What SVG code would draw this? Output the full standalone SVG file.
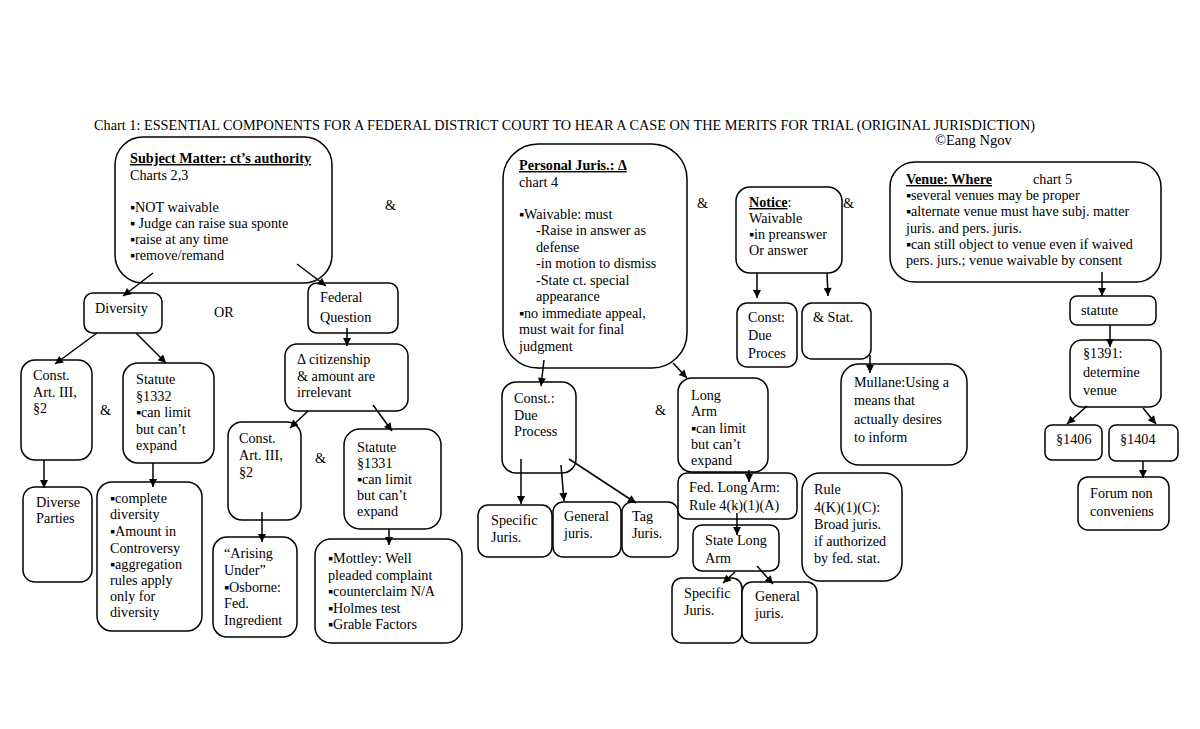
<svg xmlns="http://www.w3.org/2000/svg" width="1200" height="729" viewBox="0 0 1200 729">
<defs>
<style>
.box{fill:#fff;stroke:#000;stroke-width:1.5}
text{font-family:"Liberation Serif","Times New Roman",serif;font-size:14.2px;fill:#000}
.h{font-weight:bold;text-decoration:underline}
.ti{font-size:14.5px}
.c line{stroke:#000;stroke-width:1.5;marker-end:url(#ah)}
</style>
<marker id="ah" viewBox="0 0 10 10" refX="10" refY="5" markerWidth="9" markerHeight="8" markerUnits="userSpaceOnUse" orient="auto">
<path d="M0,0 L10,5 L0,10 z" fill="#000"/>
</marker>
</defs>
<rect width="1200" height="729" fill="#fff"/>
<g id="title">
<text class="ti" x="94" y="130" textLength="941" lengthAdjust="spacingAndGlyphs">Chart 1: ESSENTIAL COMPONENTS FOR A FEDERAL DISTRICT COURT TO HEAR A CASE ON THE MERITS FOR TRIAL (ORIGINAL JURISDICTION)</text>
<text class="ti" x="935" y="145">©Eang Ngov</text>
</g>
<g id="labels">
<text x="385" y="210">&amp;</text>
<text x="214" y="317">OR</text>
<text x="100" y="415">&amp;</text>
<text x="315" y="463">&amp;</text>
<text x="697" y="208">&amp;</text>
<text x="843" y="208">&amp;</text>
<text x="655" y="415">&amp;</text>
</g>
<g id="subject">
<rect class="box" x="115" y="137" width="217" height="146" rx="28"/>
<text><tspan class="h" x="130" y="163">Subject Matter: ct’s authority</tspan><tspan x="130" y="180">Charts 2,3</tspan><tspan x="130" y="212">▪NOT waivable</tspan><tspan x="130" y="228">▪ Judge can raise sua sponte</tspan><tspan x="130" y="244">▪raise at any time</tspan><tspan x="130" y="260">▪remove/remand</tspan></text>
</g>
<g id="diversity">
<rect class="box" x="84" y="293" width="78" height="40" rx="9"/>
<text x="95" y="313">Diversity</text>
</g>
<g id="fedq">
<rect class="box" x="308" y="283" width="90" height="50" rx="9"/>
<text><tspan x="320" y="302">Federal</tspan><tspan x="320" y="322">Question</tspan></text>
</g>
<g id="const1">
<rect class="box" x="21" y="360" width="71" height="100" rx="14"/>
<text><tspan x="33" y="380">Const.</tspan><tspan x="33" y="397">Art. III,</tspan><tspan x="33" y="413">§2</tspan></text>
</g>
<g id="stat1332">
<rect class="box" x="123" y="363" width="91" height="100" rx="15"/>
<text><tspan x="136" y="384">Statute</tspan><tspan x="136" y="401">§1332</tspan><tspan x="136" y="417">▪can limit</tspan><tspan x="136" y="434">but can’t</tspan><tspan x="136" y="450">expand</tspan></text>
</g>
<g id="diverse">
<rect class="box" x="23" y="487" width="69" height="95" rx="12"/>
<text><tspan x="36" y="507">Diverse</tspan><tspan x="36" y="523">Parties</tspan></text>
</g>
<g id="complete">
<rect class="box" x="97" y="482" width="105" height="149" rx="15"/>
<text><tspan x="110" y="503">▪complete</tspan><tspan x="110" y="519">diversity</tspan><tspan x="110" y="536">▪Amount in</tspan><tspan x="110" y="553">Controversy</tspan><tspan x="110" y="569">▪aggregation</tspan><tspan x="110" y="585">rules apply</tspan><tspan x="110" y="601">only for</tspan><tspan x="110" y="617">diversity</tspan></text>
</g>
<g id="citizen">
<rect class="box" x="285" y="344" width="123" height="67" rx="12"/>
<text><tspan x="297" y="364">Δ citizenship</tspan><tspan x="297" y="381">&amp; amount are</tspan><tspan x="297" y="397">irrelevant</tspan></text>
</g>
<g id="const2">
<rect class="box" x="228" y="422" width="73" height="98" rx="14"/>
<text><tspan x="239" y="443">Const.</tspan><tspan x="239" y="460">Art. III,</tspan><tspan x="239" y="477">§2</tspan></text>
</g>
<g id="stat1331">
<rect class="box" x="344" y="429" width="97" height="100" rx="16"/>
<text><tspan x="357" y="452">Statute</tspan><tspan x="357" y="468">§1331</tspan><tspan x="357" y="484">▪can limit</tspan><tspan x="357" y="500">but can’t</tspan><tspan x="357" y="516">expand</tspan></text>
</g>
<g id="arising">
<rect class="box" x="213" y="537" width="84" height="100" rx="14"/>
<text><tspan x="224" y="558">“Arising</tspan><tspan x="224" y="575">Under”</tspan><tspan x="224" y="592">▪Osborne:</tspan><tspan x="224" y="608">Fed.</tspan><tspan x="224" y="625">Ingredient</tspan></text>
</g>
<g id="mottley">
<rect class="box" x="315" y="539" width="147" height="104" rx="16"/>
<text><tspan x="328" y="563">▪Mottley: Well</tspan><tspan x="328" y="580">pleaded complaint</tspan><tspan x="328" y="596">▪counterclaim N/A</tspan><tspan x="328" y="613">▪Holmes test</tspan><tspan x="328" y="629">▪Grable Factors</tspan></text>
</g>
<g id="personal">
<rect class="box" x="503" y="144" width="184" height="224" rx="35"/>
<text><tspan class="h" x="519" y="170">Personal Juris.: Δ</tspan><tspan x="519" y="187">chart 4</tspan><tspan x="519" y="219">▪Waivable: must</tspan><tspan x="536" y="235">-Raise in answer as</tspan><tspan x="536" y="252">defense</tspan><tspan x="536" y="268">-in motion to dismiss</tspan><tspan x="536" y="285">-State ct. special</tspan><tspan x="536" y="301">appearance</tspan><tspan x="519" y="318">▪no immediate appeal,</tspan><tspan x="519" y="334">must wait for final</tspan><tspan x="519" y="351">judgment</tspan></text>
</g>
<g id="notice">
<rect class="box" x="736" y="187" width="106" height="86" rx="14"/>
<text><tspan x="749" y="207"><tspan class="h">Notice</tspan>:</tspan><tspan x="749" y="223">Waivable</tspan><tspan x="749" y="239">▪in preanswer</tspan><tspan x="749" y="255">Or answer</tspan></text>
</g>
<g id="constdp2">
<rect class="box" x="737" y="303" width="60" height="64" rx="10"/>
<text><tspan x="748" y="322">Const:</tspan><tspan x="748" y="340">Due</tspan><tspan x="748" y="358">Proces</tspan></text>
</g>
<g id="stat">
<rect class="box" x="802" y="303" width="69" height="56" rx="10"/>
<text x="813" y="322">&amp; Stat.</text>
</g>
<g id="mullane">
<rect class="box" x="841" y="364" width="126" height="101" rx="18"/>
<text><tspan x="854" y="387">Mullane:Using a</tspan><tspan x="854" y="405">means that</tspan><tspan x="854" y="424">actually desires</tspan><tspan x="854" y="442">to inform</tspan></text>
</g>
<g id="constdp">
<rect class="box" x="502" y="382" width="74" height="91" rx="14"/>
<text><tspan x="514" y="403">Const.:</tspan><tspan x="514" y="420">Due</tspan><tspan x="514" y="436">Process</tspan></text>
</g>
<g id="longarm">
<rect class="box" x="678" y="378" width="90" height="94" rx="14"/>
<text><tspan x="691" y="400">Long</tspan><tspan x="691" y="416">Arm</tspan><tspan x="691" y="433">▪can limit</tspan><tspan x="691" y="449">but can’t</tspan><tspan x="691" y="465">expand</tspan></text>
</g>
<g id="specific1">
<rect class="box" x="478" y="505" width="74" height="52" rx="10"/>
<text><tspan x="491" y="525">Specific</tspan><tspan x="491" y="542">Juris.</tspan></text>
</g>
<g id="general1">
<rect class="box" x="553" y="502" width="68" height="55" rx="10"/>
<text><tspan x="564" y="521">General</tspan><tspan x="564" y="538">juris.</tspan></text>
</g>
<g id="tag">
<rect class="box" x="622" y="502" width="56" height="55" rx="10"/>
<text><tspan x="632" y="521">Tag</tspan><tspan x="632" y="538">Juris.</tspan></text>
</g>
<g id="fedlong">
<rect class="box" x="678" y="473" width="119" height="46" rx="9"/>
<text><tspan x="689" y="492">Fed. Long Arm:</tspan><tspan x="689" y="510">Rule 4(k)(1)(A)</tspan></text>
</g>
<g id="statelong">
<rect class="box" x="693" y="525" width="86" height="46" rx="9"/>
<text><tspan x="705" y="545">State Long</tspan><tspan x="705" y="563">Arm</tspan></text>
</g>
<g id="specific2">
<rect class="box" x="672" y="578" width="70" height="65" rx="10"/>
<text><tspan x="684" y="598">Specific</tspan><tspan x="684" y="615">Juris.</tspan></text>
</g>
<g id="general2">
<rect class="box" x="742" y="582" width="75" height="61" rx="10"/>
<text><tspan x="755" y="601">General</tspan><tspan x="755" y="618">juris.</tspan></text>
</g>
<g id="rule4c">
<rect class="box" x="802" y="473" width="100" height="108" rx="18"/>
<text><tspan x="814" y="494">Rule</tspan><tspan x="814" y="512">4(K)(1)(C):</tspan><tspan x="814" y="529">Broad juris.</tspan><tspan x="814" y="546">if authorized</tspan><tspan x="814" y="563">by fed. stat.</tspan></text>
</g>
<g id="venue">
<rect class="box" x="890" y="162" width="271" height="120" rx="25"/>
<text><tspan class="h" x="906" y="184">Venue: Where</tspan><tspan x="1033" y="184">chart 5</tspan><tspan x="906" y="200">▪several venues may be proper</tspan><tspan x="906" y="216">▪alternate venue must have subj. matter</tspan><tspan x="906" y="233">juris. and pers. juris.</tspan><tspan x="906" y="249">▪can still object to venue even if waived</tspan><tspan x="906" y="265">pers. jurs.; venue waivable by consent</tspan></text>
</g>
<g id="statute">
<rect class="box" x="1070" y="296" width="86" height="29" rx="7"/>
<text x="1081" y="315">statute</text>
</g>
<g id="s1391">
<rect class="box" x="1070" y="340" width="91" height="67" rx="12"/>
<text><tspan x="1083" y="358">§1391:</tspan><tspan x="1083" y="377">determine</tspan><tspan x="1083" y="395">venue</tspan></text>
</g>
<g id="s1406">
<rect class="box" x="1045" y="425" width="57" height="35" rx="7"/>
<text x="1056" y="444">§1406</text>
</g>
<g id="s1404">
<rect class="box" x="1109" y="425" width="69" height="36" rx="7"/>
<text x="1120" y="444">§1404</text>
</g>
<g id="forum">
<rect class="box" x="1078" y="477" width="91" height="53" rx="10"/>
<text><tspan x="1090" y="498">Forum non</tspan><tspan x="1090" y="516">conveniens</tspan></text>
</g>
<g class="c" id="connectors">
<line x1="153" y1="273" x2="123" y2="296"/>
<line x1="297" y1="264" x2="326" y2="286"/>
<line x1="97" y1="333" x2="55" y2="364"/>
<line x1="136" y1="333" x2="166" y2="363"/>
<line x1="44" y1="460" x2="44" y2="488"/>
<line x1="153" y1="463" x2="153" y2="487"/>
<line x1="347" y1="328" x2="347" y2="346"/>
<line x1="308" y1="411" x2="290" y2="428"/>
<line x1="373" y1="405" x2="392" y2="431"/>
<line x1="262" y1="512" x2="262" y2="542"/>
<line x1="389" y1="529" x2="389" y2="545"/>
<line x1="544" y1="360" x2="541" y2="386"/>
<line x1="673" y1="363" x2="687" y2="378"/>
<line x1="757" y1="273" x2="757" y2="298"/>
<line x1="827" y1="273" x2="828" y2="296"/>
<line x1="870" y1="355" x2="870" y2="373"/>
<line x1="521" y1="459" x2="521" y2="504"/>
<line x1="561" y1="465" x2="564" y2="501"/>
<line x1="569" y1="459" x2="636" y2="503"/>
<line x1="749" y1="470" x2="749" y2="482"/>
<line x1="737" y1="513" x2="737" y2="535"/>
<line x1="735" y1="572" x2="723" y2="583"/>
<line x1="757" y1="566" x2="773" y2="584"/>
<line x1="1102" y1="272" x2="1102" y2="296"/>
<line x1="1110" y1="325" x2="1110" y2="347"/>
<line x1="1087" y1="406" x2="1067" y2="424"/>
<line x1="1143" y1="408" x2="1156" y2="424"/>
<line x1="1143" y1="461" x2="1143" y2="478"/>
</g>
</svg>
